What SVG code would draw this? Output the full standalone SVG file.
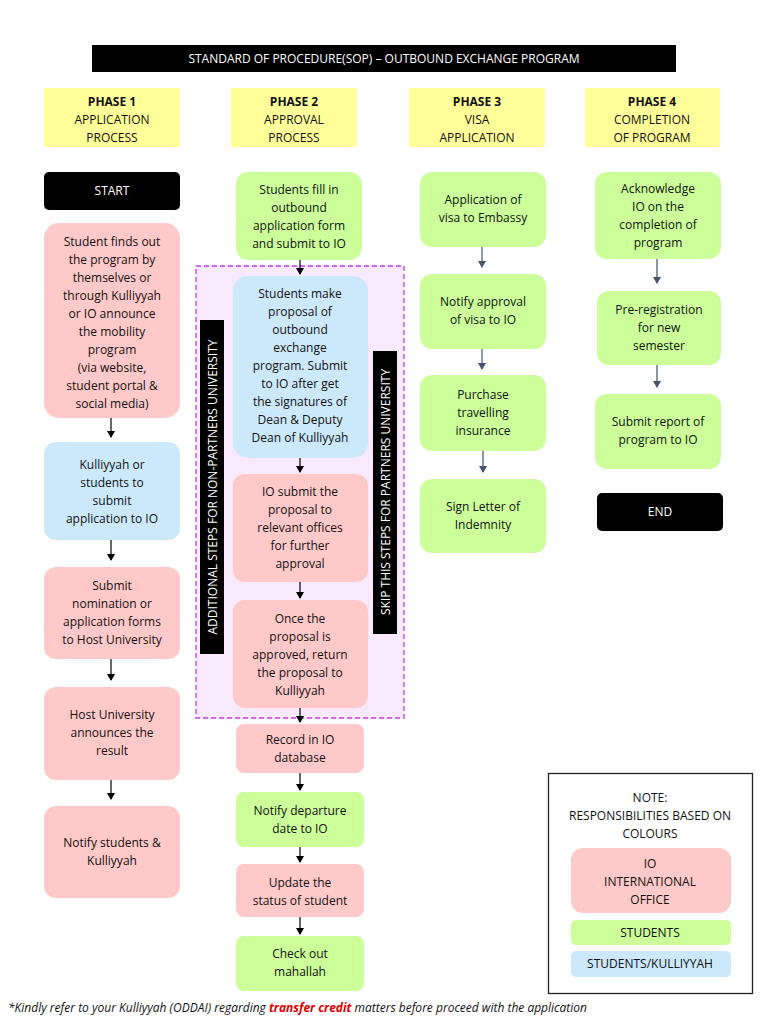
<svg xmlns="http://www.w3.org/2000/svg" width="768" height="1024" viewBox="0 0 768 1024">
<style>
text{font-family:"Open Sans","Liberation Sans",sans-serif;font-size:12px;fill:#111;text-anchor:middle}
.w{fill:#fff}
.pk{fill:#ffc9c9}.gr{fill:#ccff99}.bl{fill:#cce9fb}.ye{fill:#ffff99}.bk{fill:#000}
.ar{stroke:#000;stroke-width:1.2;fill:none;marker-end:url(#a)}
.ar2{stroke:#44546a;stroke-width:1.2;fill:none;marker-end:url(#b)}
</style>
<defs>
<marker id="a" markerWidth="8" markerHeight="8" refX="6" refY="4" orient="auto" markerUnits="userSpaceOnUse"><path d="M0,0 L7,4 L0,8z" fill="#000"/></marker>
<marker id="b" markerWidth="8" markerHeight="8" refX="6" refY="4" orient="auto" markerUnits="userSpaceOnUse"><path d="M0,0 L7,4 L0,8z" fill="#44546a"/></marker>
</defs>
<rect width="768" height="1024" fill="#fff"/>
<g id="title"><rect x="92" y="45" width="584" height="27" class="bk"/><text x="384" y="63" class="w">STANDARD OF PROCEDURE(SOP) – OUTBOUND EXCHANGE PROGRAM</text></g>
<g id="phase1"><rect x="44" y="88" width="136" height="59" class="ye"/><text x="112" y="106"><tspan font-weight="bold">PHASE 1</tspan><tspan x="112" dy="18">APPLICATION</tspan><tspan x="112" dy="18">PROCESS</tspan></text></g>
<g id="phase2"><rect x="231" y="88" width="126" height="59" class="ye"/><text x="294" y="106"><tspan font-weight="bold">PHASE 2</tspan><tspan x="294" dy="18">APPROVAL</tspan><tspan x="294" dy="18">PROCESS</tspan></text></g>
<g id="phase3"><rect x="409" y="88" width="136" height="59" class="ye"/><text x="477" y="106"><tspan font-weight="bold">PHASE 3</tspan><tspan x="477" dy="18">VISA</tspan><tspan x="477" dy="18">APPLICATION</tspan></text></g>
<g id="phase4"><rect x="585" y="88" width="135" height="59" class="ye"/><text x="652" y="106"><tspan font-weight="bold">PHASE 4</tspan><tspan x="652" dy="18">COMPLETION</tspan><tspan x="652" dy="18">OF PROGRAM</tspan></text></g>

<g id="region"><rect x="196" y="266" width="208" height="452" fill="#f9e9fc" stroke="#cc33ff" stroke-width="1.3" stroke-dasharray="5,3"/></g>

<g id="connectors">
<path class="ar" d="M111,418 V437"/><path class="ar" d="M111,540 V560"/><path class="ar" d="M111,659 V680"/><path class="ar" d="M111,780 V799"/>
<path class="ar" d="M300,260 V274"/><path class="ar" d="M300,458 V472"/><path class="ar" d="M300,582 V598"/><path class="ar" d="M300,708 V722"/><path class="ar" d="M300,773 V790"/><path class="ar" d="M300,847 V862"/><path class="ar" d="M300,917 V934"/>
<path class="ar2" d="M482,247 V267"/><path class="ar2" d="M482,349 V369"/><path class="ar2" d="M483,451 V472"/>
<path class="ar2" d="M657,259 V283"/><path class="ar2" d="M657,365 V387"/>
</g>

<g id="start"><rect x="44" y="172" width="136" height="38" rx="5" class="bk"/><text x="112" y="195" class="w">START</text></g>
<g id="c1n1"><rect x="44" y="223" width="136" height="195" rx="15" class="pk"/><text x="112" y="246">Student finds out<tspan x="112" dy="18">the program by</tspan><tspan x="112" dy="18">themselves or</tspan><tspan x="112" dy="18">through Kulliyyah</tspan><tspan x="112" dy="18">or IO announce</tspan><tspan x="112" dy="18">the mobility</tspan><tspan x="112" dy="18">program</tspan><tspan x="112" dy="18">(via website,</tspan><tspan x="112" dy="18">student portal &amp;</tspan><tspan x="112" dy="18">social media)</tspan></text></g>
<g id="c1n2"><rect x="44" y="442" width="136" height="98" rx="12" class="bl"/><text x="112" y="469">Kulliyyah or<tspan x="112" dy="18">students to</tspan><tspan x="112" dy="18">submit</tspan><tspan x="112" dy="18">application to IO</tspan></text></g>
<g id="c1n3"><rect x="44" y="567" width="136" height="92" rx="12" class="pk"/><text x="112" y="590">Submit<tspan x="112" dy="18">nomination or</tspan><tspan x="112" dy="18">application forms</tspan><tspan x="112" dy="18">to Host University</tspan></text></g>
<g id="c1n4"><rect x="44" y="687" width="136" height="93" rx="12" class="pk"/><text x="112" y="719">Host University<tspan x="112" dy="18">announces the</tspan><tspan x="112" dy="18">result</tspan></text></g>
<g id="c1n5"><rect x="44" y="806" width="136" height="92" rx="12" class="pk"/><text x="112" y="847">Notify students &amp;<tspan x="112" dy="18">Kulliyyah</tspan></text></g>

<g id="c2n1"><rect x="236" y="172" width="126" height="88" rx="12" class="gr"/><text x="299" y="194">Students fill in<tspan x="299" dy="18">outbound</tspan><tspan x="299" dy="18">application form</tspan><tspan x="299" dy="18">and submit to IO</tspan></text></g>
<g id="c2n2"><rect x="233" y="276" width="135" height="182" rx="15" class="bl"/><text x="300" y="298">Students make<tspan x="300" dy="18">proposal of</tspan><tspan x="300" dy="18">outbound</tspan><tspan x="300" dy="18">exchange</tspan><tspan x="300" dy="18">program. Submit</tspan><tspan x="300" dy="18">to IO after get</tspan><tspan x="300" dy="18">the signatures of</tspan><tspan x="300" dy="18">Dean &amp; Deputy</tspan><tspan x="300" dy="18">Dean of Kulliyyah</tspan></text></g>
<g id="c2n3"><rect x="233" y="474" width="135" height="108" rx="12" class="pk"/><text x="300" y="496">IO submit the<tspan x="300" dy="18">proposal to</tspan><tspan x="300" dy="18">relevant offices</tspan><tspan x="300" dy="18">for further</tspan><tspan x="300" dy="18">approval</tspan></text></g>
<g id="c2n4"><rect x="233" y="600" width="135" height="108" rx="12" class="pk"/><text x="300" y="623">Once the<tspan x="300" dy="18">proposal is</tspan><tspan x="300" dy="18">approved, return</tspan><tspan x="300" dy="18">the proposal to</tspan><tspan x="300" dy="18">Kulliyyah</tspan></text></g>
<g id="c2n5"><rect x="236" y="724" width="128" height="49" rx="8" class="pk"/><text x="300" y="744">Record in IO<tspan x="300" dy="18">database</tspan></text></g>
<g id="c2n6"><rect x="236" y="792" width="128" height="55" rx="8" class="gr"/><text x="300" y="815">Notify departure<tspan x="300" dy="18">date to IO</tspan></text></g>
<g id="c2n7"><rect x="236" y="864" width="128" height="53" rx="8" class="pk"/><text x="300" y="887">Update the<tspan x="300" dy="18">status of student</tspan></text></g>
<g id="c2n8"><rect x="236" y="936" width="128" height="55" rx="8" class="gr"/><text x="300" y="958">Check out<tspan x="300" dy="18">mahallah</tspan></text></g>

<g id="bar1"><rect x="200" y="320" width="24" height="334" class="bk"/><text transform="translate(217,487) rotate(-90)" class="w">ADDITIONAL STEPS FOR NON-PARTNERS UNIVERSITY</text></g>
<g id="bar2"><rect x="373" y="351" width="24" height="283" class="bk"/><text transform="translate(390,492) rotate(-90)" class="w">SKIP THIS STEPS FOR PARTNERS UNIVERSITY</text></g>

<g id="c3n1"><rect x="420" y="172" width="126" height="75" rx="12" class="gr"/><text x="483" y="204">Application of<tspan x="483" dy="18">visa to Embassy</tspan></text></g>
<g id="c3n2"><rect x="420" y="274" width="126" height="75" rx="12" class="gr"/><text x="483" y="306">Notify approval<tspan x="483" dy="18">of visa to IO</tspan></text></g>
<g id="c3n3"><rect x="420" y="375" width="126" height="76" rx="12" class="gr"/><text x="483" y="399">Purchase<tspan x="483" dy="18">travelling</tspan><tspan x="483" dy="18">insurance</tspan></text></g>
<g id="c3n4"><rect x="420" y="479" width="126" height="74" rx="12" class="gr"/><text x="483" y="511">Sign Letter of<tspan x="483" dy="18">Indemnity</tspan></text></g>

<g id="c4n1"><rect x="595" y="172" width="126" height="87" rx="12" class="gr"/><text x="658" y="193">Acknowledge<tspan x="658" dy="18">IO on the</tspan><tspan x="658" dy="18">completion of</tspan><tspan x="658" dy="18">program</tspan></text></g>
<g id="c4n2"><rect x="597" y="291" width="124" height="74" rx="12" class="gr"/><text x="659" y="314">Pre-registration<tspan x="659" dy="18">for new</tspan><tspan x="659" dy="18">semester</tspan></text></g>
<g id="c4n3"><rect x="595" y="394" width="126" height="75" rx="12" class="gr"/><text x="658" y="426">Submit report of<tspan x="658" dy="18">program to IO</tspan></text></g>
<g id="end"><rect x="597" y="493" width="126" height="38" rx="5" class="bk"/><text x="660" y="516" class="w">END</text></g>

<g id="note"><rect x="548.5" y="773.5" width="204" height="220" fill="#fff" stroke="#222" stroke-width="1.3"/>
<text x="650" y="802">NOTE:<tspan x="650" dy="18">RESPONSIBILITIES BASED ON</tspan><tspan x="650" dy="18">COLOURS</tspan></text>
<rect x="571" y="848" width="160" height="65" rx="12" class="pk"/><text x="650" y="868">IO<tspan x="650" dy="18">INTERNATIONAL</tspan><tspan x="650" dy="18">OFFICE</tspan></text>
<rect x="571" y="920" width="160" height="25" rx="5" class="gr"/><text x="650" y="937">STUDENTS</text>
<rect x="571" y="951" width="160" height="26" rx="5" class="bl"/><text x="650" y="968">STUDENTS/KULLIYYAH</text></g>

<g id="footer"><text x="8" y="1012" style="text-anchor:start;font-style:italic">*Kindly refer to your Kulliyyah (ODDAI) regarding <tspan fill="#e00000" font-weight="bold">transfer credit</tspan> matters before proceed with the application</text></g>
</svg>
